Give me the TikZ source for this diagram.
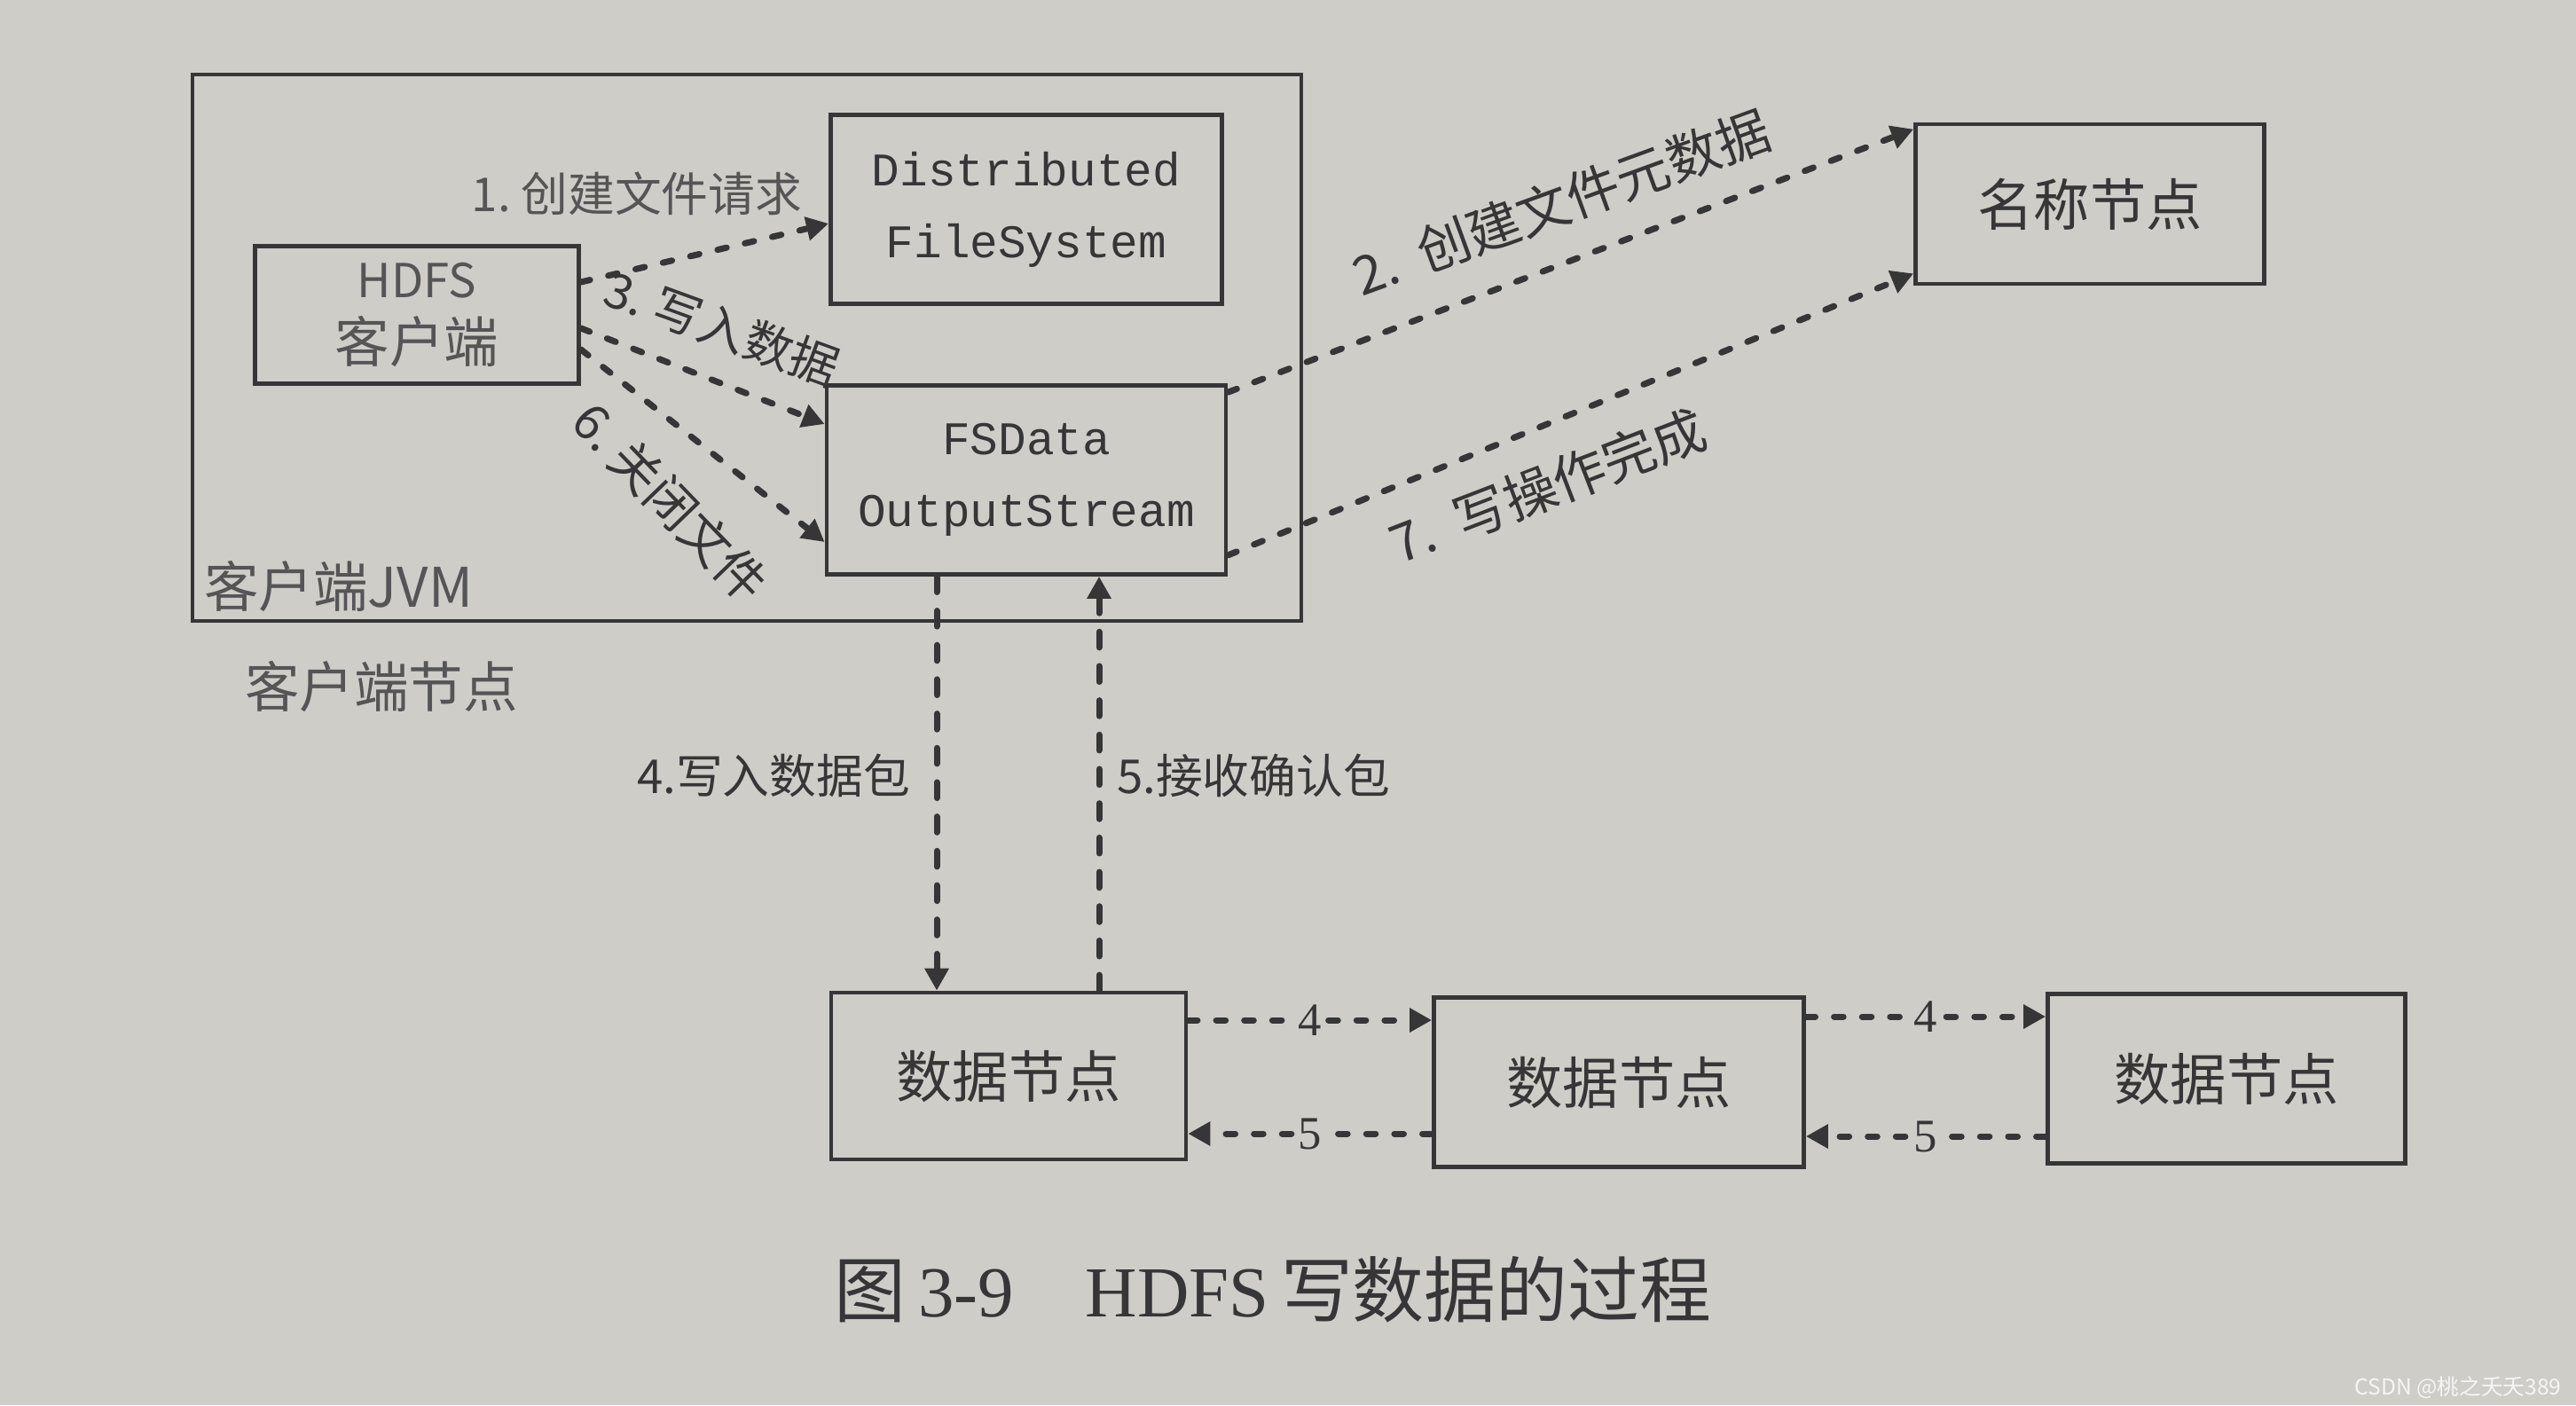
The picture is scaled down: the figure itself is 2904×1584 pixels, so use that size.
\documentclass[tikz,border=0pt]{standalone}
\usepackage{fontspec}
\setmainfont{Liberation Serif}
\newfontfamily\cjk{Noto Sans CJK SC}
\newfontfamily\monof{Liberation Mono}
\usetikzlibrary{arrows.meta,calc}
\definecolor{paper}{HTML}{CFCDC8}
\definecolor{ink}{HTML}{363636}
\definecolor{inklight}{HTML}{555555}
\begin{document}
\begin{tikzpicture}[x=0.01cm,y=-0.01cm,
  box/.style={draw=ink,line width=1.3pt,inner sep=0pt,align=center,text=ink},
  flow/.style={draw=ink,line width=2pt,line cap=round,dash pattern=on 3pt off 6pt,
    -{Triangle[length=0.25cm,width=0.26cm]}},
  vflow/.style={draw=ink,line width=2pt,line cap=round,dash pattern=on 5pt off 6pt,
    -{Triangle[length=0.25cm,width=0.26cm]}},
  lbl/.style={text=ink,inner sep=1pt},
  cn/.style={font=\cjk\fontsize{#1}{#1}\selectfont},
  mono/.style={font=\monof\fontsize{15}{23}\selectfont},
  num/.style={fill=paper,inner sep=1pt,text=ink,font=\fontsize{15}{15}\selectfont}
]
\fill[paper] (0,0) rectangle (2904,1584);
\useasboundingbox (0,0) rectangle (2904,1584);

% boxes
\node[box,minimum width=12.49cm,minimum height=6.16cm] (jvm) at (842,392) {};
\node[box,minimum width=3.65cm,minimum height=1.55cm,text=inklight,
  font=\cjk\fontsize{17.5}{21}\selectfont] (client) at (470,355)
  {{\fontsize{15}{15}\selectfont HDFS}\\客户端};
\node[box,mono,minimum width=4.41cm,minimum height=2.13cm] (dfs) at (1157,236)
  {Distributed\\FileSystem};
\node[box,mono,minimum width=4.5cm,minimum height=2.13cm] (fsd) at (1157,541)
  {FSData\\OutputStream};
\node[box,cn=18,minimum width=3.93cm,minimum height=1.8cm] (nn) at (2356,230) {名称节点};
\node[box,cn=18,minimum width=4.0cm,minimum height=1.88cm] (dn1) at (1137,1213) {数据节点};
\node[box,cn=18,minimum width=4.17cm,minimum height=1.91cm] (dn2) at (1825,1220) {数据节点};
\node[box,cn=18,minimum width=4.03cm,minimum height=1.91cm] (dn3) at (2510,1216) {数据节点};

% frame labels
\node[lbl,cn=17.5,text=inklight,anchor=west] (jvmlbl) at (226,661) {客户端JVM};
\node[lbl,cn=17.5,text=inklight] (nodelbl) at (430,774) {客户端节点};

% client-side connectors
\draw[flow] ($(client.east)+(0,-37)$) -- ($(dfs.west)+(0,16)$);
\draw[flow] ($(client.east)+(0,15)$) -- ($(fsd.west)+(0,-63)$);
\draw[flow] ($(client.east)+(0,39)$) -- ($(fsd.west)+(0,70)$);
\node[lbl,cn=15,text=inklight] (l1) at (718,218) {1.\ 创建文件请求};
\node[lbl,cn=15.5,rotate=-20] (l3) at (814,370) {3.\ 写入数据};
\node[lbl,cn=16,rotate=-46] (l6) at (756,566) {6.\ 关闭文件};

% name node connectors
\draw[flow] ($(fsd.north east)+(0,10)$) -- ($(nn.north west)+(0,8)$);
\draw[flow] ($(fsd.south east)+(0,-24)$) -- ($(nn.south west)+(0,-14)$);
\node[lbl,cn=17,rotate=20] (l2) at (1760,228) {2.\ \ 创建文件元数据};
\node[lbl,cn=17,rotate=21] (l7) at (1745,548) {7.\ \ 写操作完成};

% data path
\draw[vflow] ($(fsd.south)+(-101,0)$) -- ($(dn1.north)+(-81,0)$);
\draw[vflow] ($(dn1.north)+(102,0)$) -- ($(fsd.south)+(82,0)$);
\node[lbl,cn=15,anchor=east] (l4) at (1030,874) {4.写入数据包};
\node[lbl,cn=15,anchor=west] (l5) at (1255,874) {5.接收确认包};

% pipeline
\draw[flow] ($(dn1.east)+(0,-63)$) -- node[num] {4} ($(dn2.west)+(0,-70)$);
\draw[flow] ($(dn2.west)+(0,58)$) -- node[num] {5} ($(dn1.east)+(0,65)$);
\draw[flow] ($(dn2.east)+(0,-74)$) -- node[num] {4} ($(dn3.west)+(0,-70)$);
\draw[flow] ($(dn3.west)+(0,65)$) -- node[num] {5} ($(dn2.east)+(0,61)$);

% caption
\node[lbl,font=\fontsize{23}{23}\selectfont] (cap) at (1435,1454)
  {{\cjk 图}\,3-9\quad HDFS\,{\cjk 写数据的过程}};

% watermark
\node[inner sep=0pt,anchor=east,text=white!92!gray,font=\cjk\fontsize{7}{8}\selectfont] (wm) at (2888,1564)
  {CSDN @桃之夭夭389};
\end{tikzpicture}
\end{document}
